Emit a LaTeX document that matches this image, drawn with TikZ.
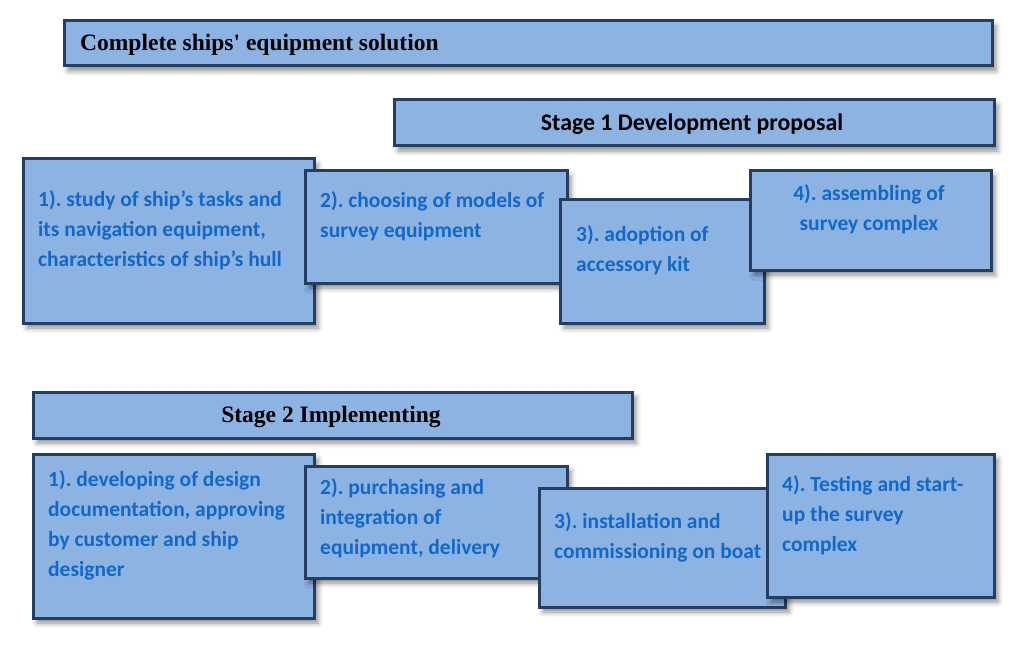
\documentclass[tikz,border=0pt]{standalone}
\usepackage{fontspec}
\setmainfont{Liberation Serif}
\setsansfont{Carlito}
\usetikzlibrary{shadows.blur}
\definecolor{boxfill}{RGB}{141,179,226}
\definecolor{boxline}{RGB}{36,62,96}
\definecolor{stepblue}{RGB}{18,104,200}
\frenchspacing
\begin{document}
\begin{tikzpicture}[x=1pt, y=-1pt,
  plate/.style={draw=boxline, line width=3pt, fill=boxfill, inner sep=0pt, anchor=north west,
    blur shadow={shadow xshift=4pt, shadow yshift=-5pt, shadow blur radius=5pt, shadow opacity=45}},
  wh/.style 2 args={minimum width=#1pt, minimum height=#2pt},
  steptext/.style={anchor=north west, align=left, inner sep=0pt, text=stepblue,
    font={\sffamily\bfseries\fontsize{21.5}{30}\selectfont}},
  headserif/.style={inner sep=0pt, font={\rmfamily\bfseries\fontsize{23.5}{28}\selectfont}},
  headsans/.style={inner sep=0pt, font={\sffamily\bfseries\fontsize{23.8}{28}\selectfont}}
]
\useasboundingbox (0,0) rectangle (1024,647);
% headings
\node[plate, wh={928}{45}] (title) at (62.5,19.5) {};
\node[headserif, anchor=base west] (titletext) at (80,51) {Complete ships\textquotesingle\ equipment solution};
\node[plate, wh={600}{46}] (stage1) at (392.5,98.5) {};
\node[headsans, anchor=base] (stage1text) at (692,131) {Stage 1 Development proposal};
% stage 1 steps
\node[plate, wh={291}{164}] (s1a) at (21.5,157.5) {};
\node[steptext] (s1atext) at (38,190) {1). study of ship’s tasks and\\its navigation equipment,\\characteristics of ship’s hull};
\node[plate, wh={262}{112}] (s1b) at (303.5,169.5) {};
\node[steptext] (s1btext) at (320,191) {2). choosing of models of\\survey equipment};
\node[plate, wh={204}{124}] (s1c) at (558.5,197.5) {};
\node[steptext] (s1ctext) at (576,225) {3). adoption of\\accessory kit};
\node[plate, wh={241}{99}] (s1d) at (748.5,169.5) {};
\node[steptext, anchor=north, align=center] (s1dtext) at (869,184) {4). assembling of\\survey complex};
% stage 2
\node[plate, wh={599}{46}] (stage2) at (31.5,390.5) {};
\node[headserif, anchor=base] (stage2text) at (331,422) {Stage 2 Implementing};
\node[plate, wh={281}{164}] (s2a) at (31.5,452.5) {};
\node[steptext] (s2atext) at (48,470) {1). developing of design\\documentation, approving\\by customer and ship\\designer};
\node[plate, wh={262}{112}] (s2b) at (303.5,464.5) {};
\node[steptext] (s2btext) at (320,478) {2). purchasing and\\integration of\\equipment, delivery};
\node[plate, wh={246}{119}] (s2c) at (537.5,486.5) {};
\node[steptext] (s2ctext) at (554,512) {3). installation and\\commissioning on boat};
\node[plate, wh={227}{143}] (s2d) at (765.5,452.5) {};
\node[steptext] (s2dtext) at (782,475) {4). Testing and start-\\up the survey\\complex};
\end{tikzpicture}
\end{document}
